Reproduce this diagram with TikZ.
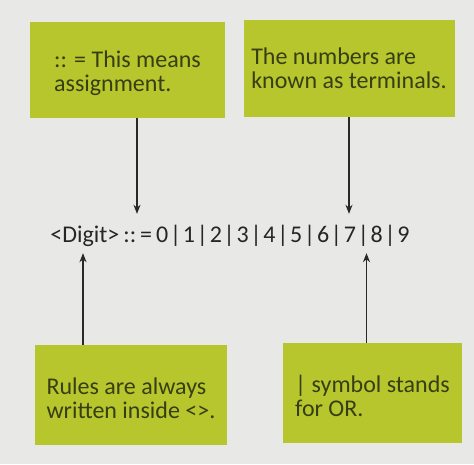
\documentclass[tikz,border=0pt]{standalone}
\usepackage{fontspec}
\setmainfont{Carlito}
\usetikzlibrary{arrows.meta, positioning}
\definecolor{limebox}{RGB}{182,198,44}
\definecolor{olivetext}{RGB}{55,62,20}
\definecolor{paper}{RGB}{232,232,230}
\definecolor{inkline}{RGB}{40,40,40}
\newcommand{\orsep}{\hspace{1.8pt}|\hspace{1.8pt}}
\newcommand{\notestrut}{\rule{0pt}{24pt}}

\begin{document}
\begin{tikzpicture}[
    x=1pt, y=-1pt,
    note/.style={rectangle, fill=limebox, text=olivetext, align=left, inner sep=0pt, font=\fontsize{24}{24}\selectfont},
    rulebox/.style={inner sep=0pt, text height=28pt, text depth=11pt, text=black!85, font=\fontsize{24}{26}\selectfont},
    arrow/.style={-{Stealth[length=9pt, width=7pt]}, line width=1.2pt, inkline}
]
\fill[paper] (0,0) rectangle (474,464);
\useasboundingbox (0,0) rectangle (474,464);

% Notes
\node[note, minimum width=195pt, minimum height=96pt] (assign) at (127.5,70) {\notestrut:: = This means\\assignment.};
\node[note, minimum width=211pt, minimum height=97pt] (terminal) at (349,68.5) {The numbers are\\known as terminals.};
\node[note, minimum width=192pt, minimum height=100pt] (rules) at (131,395) {\notestrut Rules are always\\written inside <>.};
\node[note, minimum width=179pt, minimum height=100pt] (orbar) at (372.5,393) {\notestrut| symbol stands\\for OR.};

% The rule
\node[rulebox, anchor=base] (rule) at (230,242) {<Digit>\hspace{4pt}::\hspace{4pt}=\hspace{4pt}0\orsep 1\orsep 2\orsep 3\orsep 4\orsep 5\orsep 6\orsep 7\orsep 8\orsep 9};

% Arrows
\coordinate (assignfoot) at ([xshift=9.5pt]assign.south);
\coordinate (terminalfoot) at ([xshift=0pt]terminal.south);
\coordinate (rulestop) at ([xshift=-48pt]rules.north);
\coordinate (orbartop) at ([xshift=-6pt]orbar.north);
\draw[arrow] (assignfoot) -- (assignfoot |- rule.north);
\draw[arrow] (terminalfoot) -- (terminalfoot |- rule.north);
\draw[arrow] (rulestop) -- (rulestop |- rule.south);
\draw[arrow] (orbartop) -- (orbartop |- rule.south);

\end{tikzpicture}
\end{document}
